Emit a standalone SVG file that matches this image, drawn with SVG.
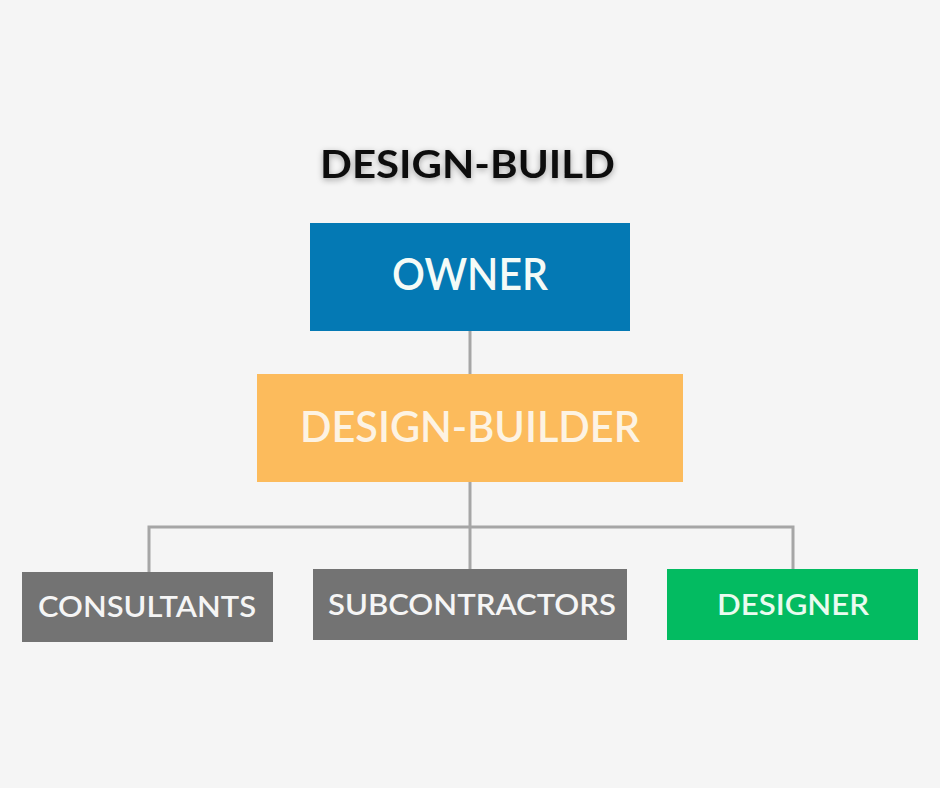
<svg xmlns="http://www.w3.org/2000/svg" width="940" height="788" viewBox="0 0 940 788">
<defs>
<filter id="sh" x="-10%" y="-30%" width="120%" height="160%">
<feDropShadow dx="0" dy="2" stdDeviation="3" flood-color="#000" flood-opacity="0.35"/>
</filter>
</defs>
<style>
.t{font-family:Lato,"Liberation Sans",sans-serif;font-weight:600;fill:#f4fbf7}
.title{font-family:Lato,"Liberation Sans",sans-serif;font-weight:700;fill:#111}
.ln{fill:none;stroke:#a6a6a6;stroke-width:3}
</style>
<rect width="940" height="788" fill="#f5f5f5"/>
<text class="title" x="320" y="178" font-size="39" textLength="295" lengthAdjust="spacingAndGlyphs" filter="url(#sh)">DESIGN-BUILD</text>
<g id="connectors">
<path class="ln" d="M470 331V374"/>
<path class="ln" d="M470 482V570"/>
<path class="ln" d="M149 572V527H793V569"/>
</g>
<g id="owner">
<rect x="310" y="223" width="320" height="108" fill="#0479b4"/>
<text class="t" x="392" y="290" font-size="44" textLength="156" lengthAdjust="spacingAndGlyphs" fill="#eaf8fd">OWNER</text>
</g>
<g id="design-builder">
<rect x="257" y="374" width="426" height="108" fill="#fcbb5c"/>
<text class="t" x="300" y="442" font-size="42" textLength="340" lengthAdjust="spacingAndGlyphs" style="fill:#fdf3e3">DESIGN-BUILDER</text>
</g>
<g id="consultants">
<rect x="22" y="572" width="251" height="70" fill="#737373"/>
<text class="t" x="38" y="617" font-size="29" textLength="218" lengthAdjust="spacingAndGlyphs" style="fill:#f5f5f5">CONSULTANTS</text>
</g>
<g id="subcontractors">
<rect x="313" y="569" width="314" height="71" fill="#737373"/>
<text class="t" x="328" y="615" font-size="29" textLength="288" lengthAdjust="spacingAndGlyphs" style="fill:#f5f5f5">SUBCONTRACTORS</text>
</g>
<g id="designer">
<rect x="667" y="569" width="251" height="71" fill="#03bb61"/>
<text class="t" x="717" y="615" font-size="29" textLength="152" lengthAdjust="spacingAndGlyphs" style="fill:#eafbf0">DESIGNER</text>
</g>
</svg>
